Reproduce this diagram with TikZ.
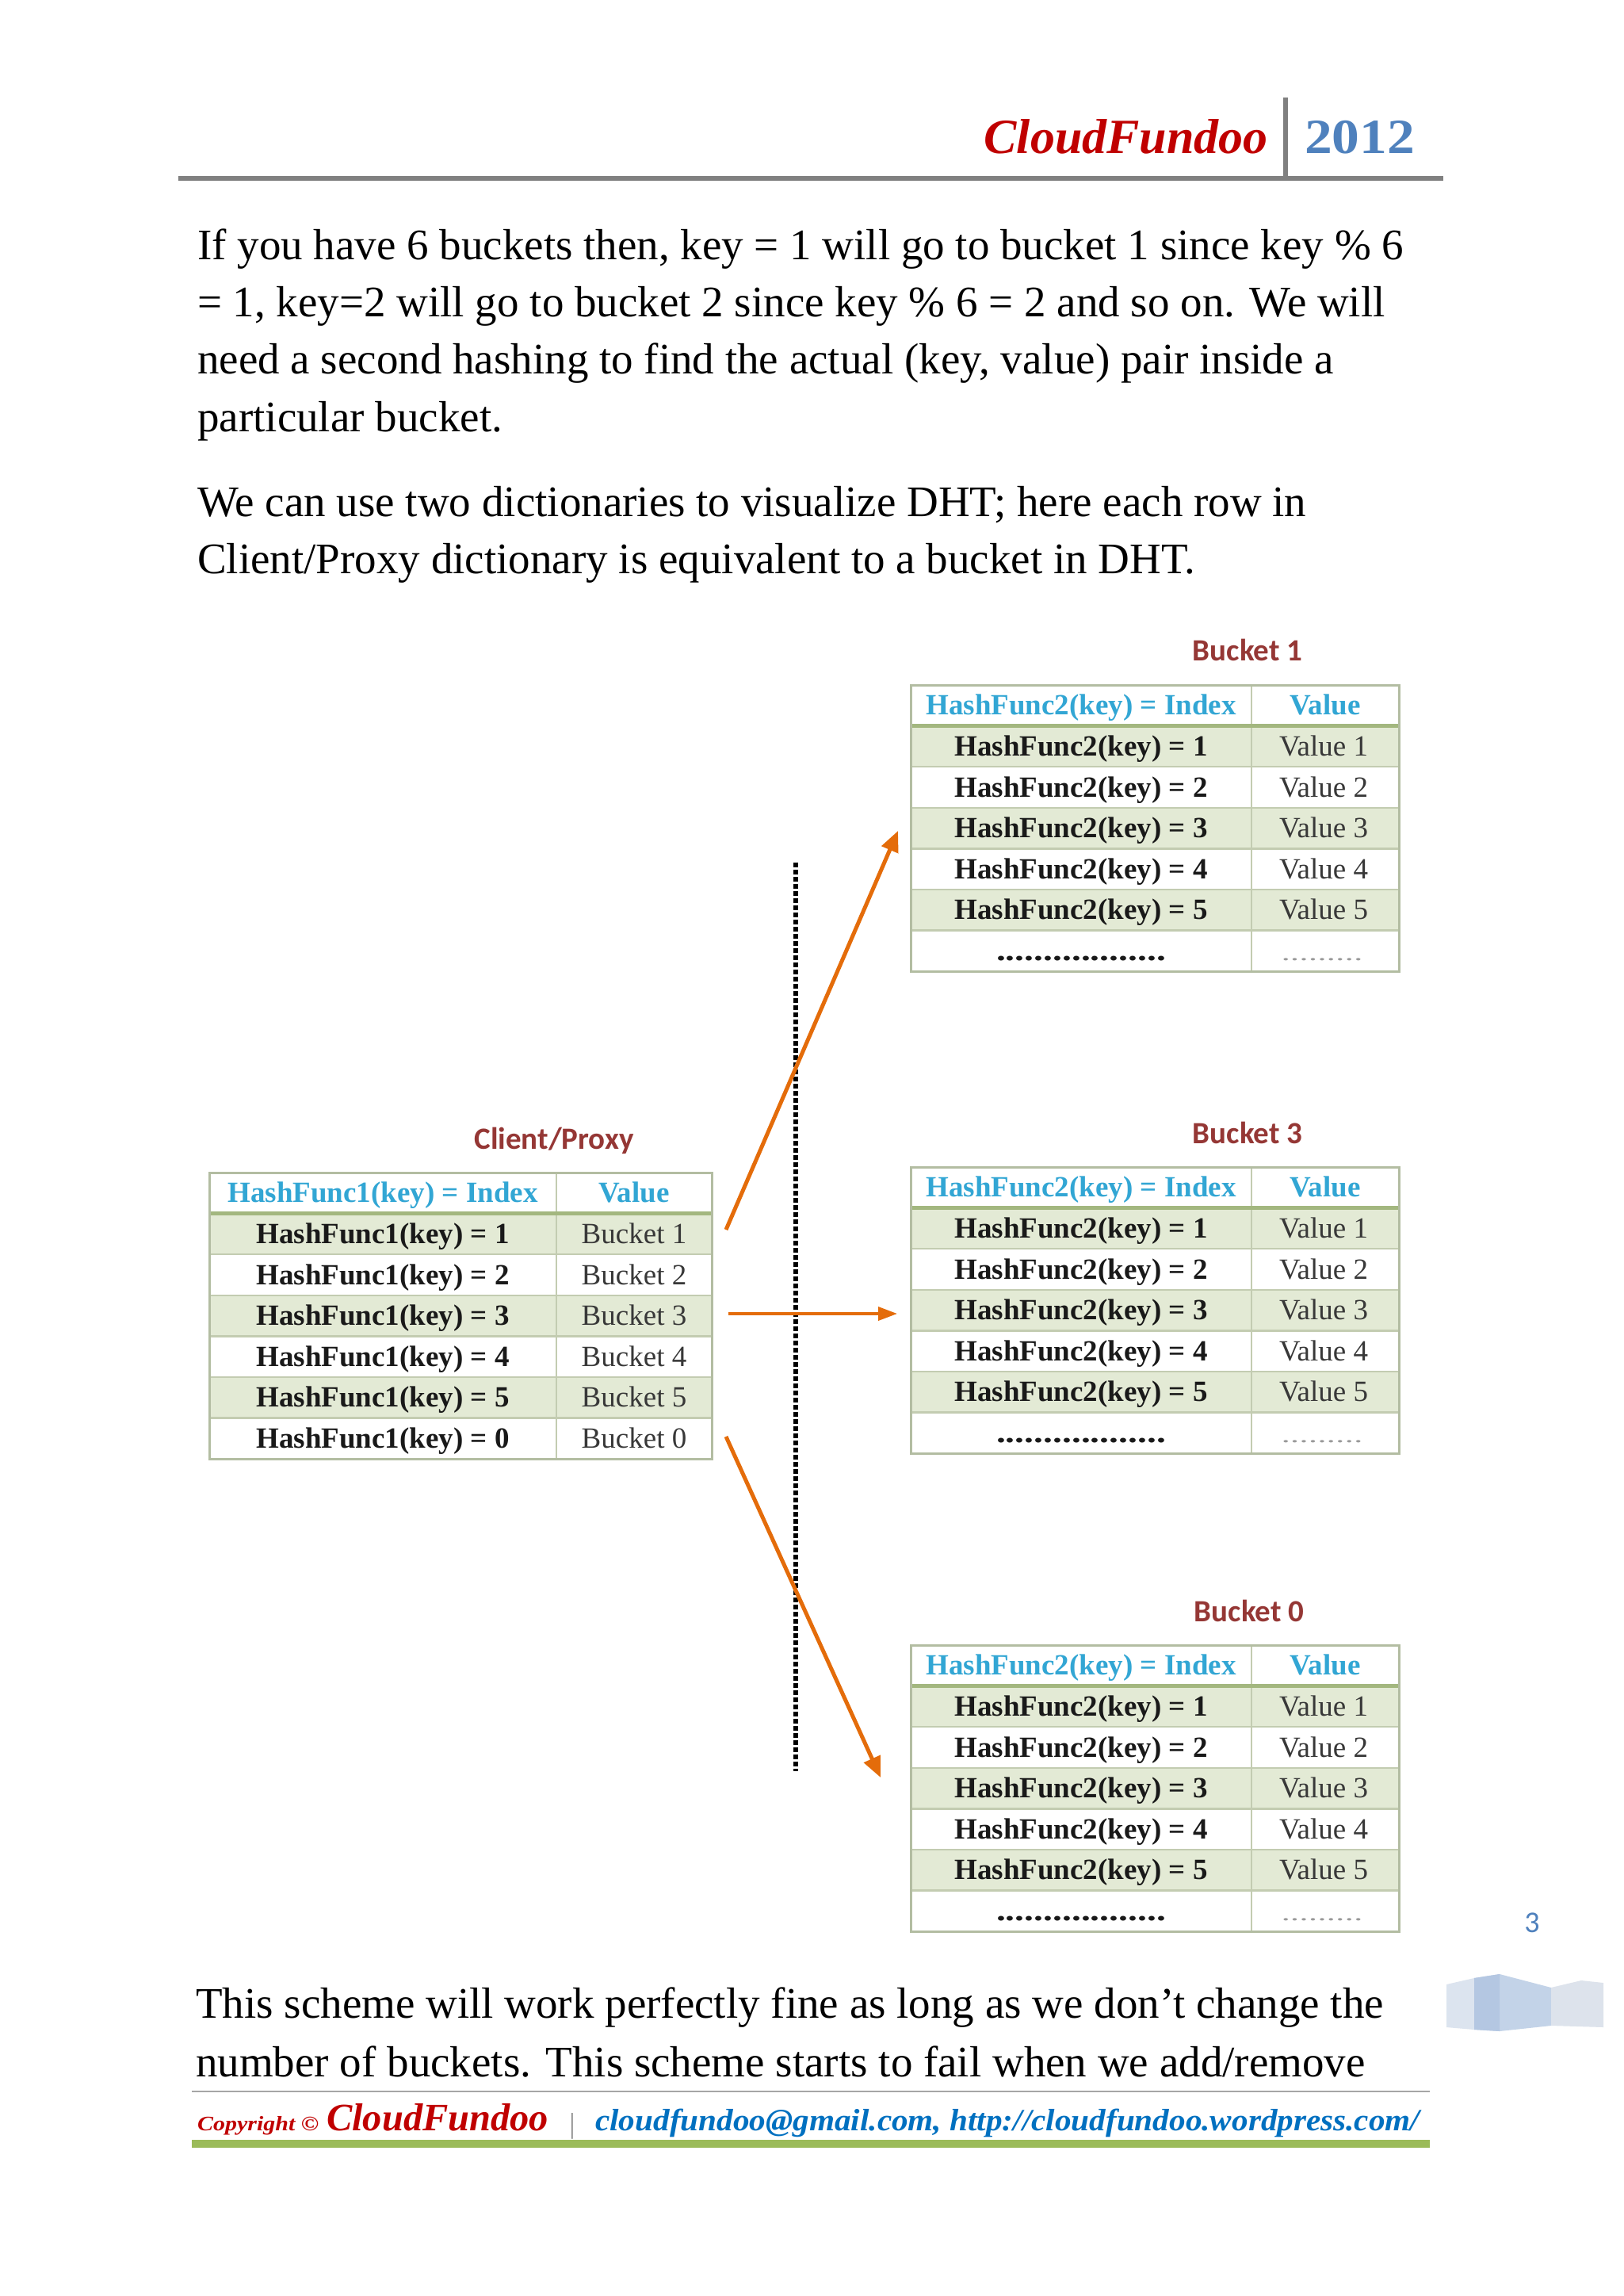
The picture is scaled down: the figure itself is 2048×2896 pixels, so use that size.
\documentclass[tikz,border=0pt]{standalone}
\usepackage{fontspec}
\setmainfont{Liberation Serif}
\newfontfamily\carlito{Carlito}
\usepackage{graphicx}
\usetikzlibrary{arrows.meta}
\definecolor{hred}{HTML}{C00000}
\definecolor{hblue}{HTML}{4F81BD}
\definecolor{lblred}{HTML}{953735}
\definecolor{cyanhdr}{HTML}{32A6D4}
\definecolor{linkblue}{HTML}{0070C0}
\definecolor{arrorange}{HTML}{E46C0A}
\definecolor{rowgreen}{HTML}{E3EAD5}
\definecolor{gridc}{HTML}{C3CCB1}
\definecolor{headc}{HTML}{A3B77F}
\definecolor{outerc}{HTML}{B3BDA2}
\definecolor{footgreen}{HTML}{9BBB59}
\definecolor{decoA}{HTML}{DCE4EF}
\definecolor{decoB}{HTML}{C3D3E8}
\definecolor{decoC}{HTML}{B4C7E2}
\definecolor{decoD}{HTML}{DDE3EC}
\newcommand\fitw[2]{\resizebox{#1}{\height}{#2}}
\newcommand\fs[1]{\fontsize{#1}{#1}\selectfont}
\def\rh{51.6}
\tikzset{
  body/.style={anchor=base west, inner sep=0pt, font=\fs{55}},
  lbl/.style={anchor=base, inner sep=0pt, font=\carlito\bfseries\fs{39}, text=lblred},
  hdrtxt/.style={anchor=base, inner sep=0pt, font=\bfseries\fs{37}, text=cyanhdr},
  keytxt/.style={anchor=base, inner sep=0pt, font=\bfseries\fs{37}, text=black!90},
  valtxt/.style={anchor=base, inner sep=0pt, font=\fs{37}, text=black!78},
  gridline/.style={draw=gridc, line width=2.5pt},
  headline/.style={draw=headc, line width=5pt},
  outerline/.style={draw=outerc, line width=3pt},
  arr/.style={draw=arrorange, line width=5pt, -{Triangle[length=26pt,width=22pt]}},
  arrthin/.style={draw=arrorange, line width=3.5pt, -{Triangle[length=24pt,width=17pt]}},
  divider/.style={draw=black, line width=6pt, dash pattern=on 6pt off 3pt},
}
\newcommand\dhgrid[4]{%
  \foreach \i in {1,3,5}{\fill[rowgreen] (#1,{#4+\i*\rh}) rectangle (#3,{#4+(\i+1)*\rh});}
  \foreach \i in {2,...,6}{\draw[gridline] (#1,{#4+\i*\rh}) -- (#3,{#4+\i*\rh});}
  \draw[gridline] (#2,#4) -- (#2,{#4+7*\rh});
  \draw[headline] (#1,{#4+\rh}) -- (#3,{#4+\rh});
  \draw[outerline] (#1,#4) rectangle (#3,{#4+7*\rh});
}
\newcommand\bucketrows[2]{%
  \node[hdrtxt] (#1-hk) at (1364,{#2+0.5*\rh+12}) {HashFunc2(key) = Index};
  \node[hdrtxt] (#1-hv) at (1672,{#2+0.5*\rh+12}) {Value};
  \foreach \i in {1,...,5}{
    \node[keytxt] (#1-k\i) at (1364,{#2+(\i+0.5)*\rh+12}) {HashFunc2(key) = \i};
    \node[valtxt] (#1-v\i) at (1670,{#2+(\i+0.5)*\rh+12}) {Value \i};
  }
  \node[keytxt] (#1-kd) at (1364,{#2+6*\rh+38}) {\fitw{214pt}{..................}};
  \node[valtxt, text=black!40, font=\fs{26}] (#1-vd) at (1668,{#2+6*\rh+38}) {\fitw{103pt}{.........}};
}
\begin{document}
\begin{tikzpicture}[x=1pt,y=-1pt]
\useasboundingbox[fill=white] (0,0) rectangle (2048,2896);

% header
\node[anchor=base east, inner sep=0pt, font=\bfseries\itshape\fs{62}, text=hred] (hname) at (1600,193) {CloudFundoo};
\node[anchor=base west, inner sep=0pt, font=\bfseries\fs{62}, text=hblue] (hyear) at (1646,193) {\fitw{139pt}{2012}};
\coordinate (hbt) at (1622,123);
\coordinate (hbb) at (1622,225);
\draw[line width=6pt, draw=black!50] (hbt) -- (hbb);
\coordinate (hrl) at (225,225);
\coordinate (hrr) at (1821,225);
\draw[line width=6pt, draw=black!50] (hrl) -- (hrr);

% body text
\node[body] (p1) at (249,327) {If you have 6 buckets then, key = 1 will go to bucket 1 since key \% 6};
\node[body] (p2) at (249,399) {= 1, key=2 will go to bucket 2 since key \% 6 = 2 and so on. We will};
\node[body] (p3) at (249,471) {need a second hashing to find the actual (key, value) pair inside a};
\node[body] (p4) at (249,544) {particular bucket.};
\node[body] (q1) at (249,651) {We can use two dictionaries to visualize DHT; here each row in};
\node[body] (q2) at (249,723) {Client/Proxy dictionary is equivalent to a bucket in DHT.};

% labels
\node[lbl] (lb1) at (1574,833) {Bucket 1};
\node[lbl] (lcp) at (699,1449) {Client/Proxy};
\node[lbl] (lb3) at (1574,1442) {Bucket 3};
\node[lbl] (lb0) at (1576,2045) {Bucket 0};

% client table
\dhgrid{264}{702}{898}{1479}
\node[hdrtxt] (cp-hk) at (483,{1479+0.5*\rh+12}) {HashFunc1(key) = Index};
\node[hdrtxt] (cp-hv) at (800,{1479+0.5*\rh+12}) {Value};
\foreach \i/\k in {1/1,2/2,3/3,4/4,5/5,6/0}{
  \node[keytxt] (cp-k\i) at (483,{1479+(\i+0.5)*\rh+12}) {HashFunc1(key) = \k};
  \node[valtxt] (cp-v\i) at (800,{1479+(\i+0.5)*\rh+12}) {Bucket \k};
}

% bucket tables
\dhgrid{1149}{1579}{1765}{864}
\bucketrows{b1}{864}
\dhgrid{1149}{1579}{1765}{1472}
\bucketrows{b3}{1472}
\dhgrid{1149}{1579}{1765}{2075}
\bucketrows{b0}{2075}

% divider
\coordinate (dvt) at (1004,1088);
\coordinate (dvb) at (1004,2234);
\draw[divider] (dvt) -- (dvb);

% arrows
\coordinate (a1s) at (916,1551);
\coordinate (a1e) at (1133,1048);
\coordinate (a2s) at (919,1657);
\coordinate (a2e) at (1132,1657);
\coordinate (a3s) at (916,1812);
\coordinate (a3e) at (1111,2242);
\draw[arr] (a1s) -- (a1e);
\draw[arrthin] (a2s) -- (a2e);
\draw[arr] (a3s) -- (a3e);

% page number and decoration
\node[inner sep=0pt, font=\carlito\fs{38}, text=hblue] (pnum) at (1933,2425) {3};
\fill[decoA] (1825,2503) -- (1860,2495) -- (1860,2560) -- (1825,2557) -- cycle;
\fill[decoB] (1860,2495) -- (1892,2490) -- (1957,2507) -- (1957,2555) -- (1892,2562) -- (1860,2560) -- cycle;
\fill[decoC] (1860,2495) -- (1892,2490) -- (1892,2562) -- (1860,2560) -- cycle;
\fill[decoD] (1957,2507) -- (1995,2498) -- (2023,2501) -- (2023,2557) -- (1957,2555) -- cycle;

% bottom text
\node[body] (r1) at (247,2545) {This scheme will work perfectly fine as long as we don’t change the};
\node[body] (r2) at (247,2619) {number of buckets. This scheme starts to fail when we add/remove};

% footer
\coordinate (fl) at (242,2638);
\coordinate (fr) at (1804,2638);
\draw[line width=2.5pt, draw=black!35] (fl) -- (fr);
\node[anchor=base west, inner sep=0pt, font=\bfseries\itshape\fs{26}, text=hred] (fcopy) at (249,2687) {\fitw{153pt}{Copyright ©}};
\node[anchor=base west, inner sep=0pt, font=\bfseries\itshape\fs{49}, text=hred] (fname) at (412,2687) {\fitw{280pt}{CloudFundoo}};
\node[anchor=base, inner sep=0pt, font=\fs{36}, text=black!45] (fsep) at (722,2690) {|};
\node[anchor=base west, inner sep=0pt, font=\bfseries\itshape\fs{39}, text=linkblue] (flink) at (751,2687) {\fitw{1040pt}{cloudfundoo@gmail.com, http://cloudfundoo.wordpress.com/}};
\coordinate (gl) at (242,2704);
\coordinate (gr) at (1804,2704);
\draw[line width=10pt, draw=footgreen] (gl) -- (gr);
\end{tikzpicture}
\end{document}
